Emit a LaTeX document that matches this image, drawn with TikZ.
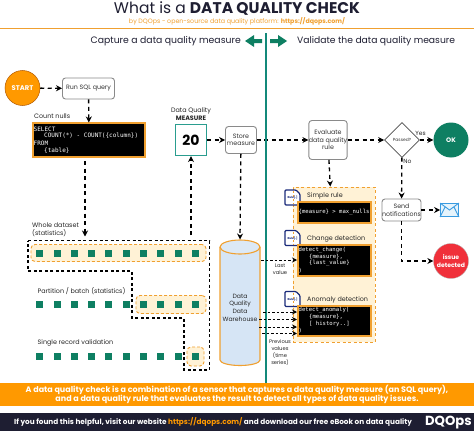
\documentclass[tikz,border=0pt]{standalone}
\usepackage{fontspec}
\setmainfont{Poppins}
\setmonofont{DejaVu Sans Mono}
\usetikzlibrary{arrows.meta,shapes.geometric}
\definecolor{org}{HTML}{FF9900}
\definecolor{borg}{HTML}{F0A030}
\definecolor{teal1}{HTML}{0E7F62}
\definecolor{tealline}{HTML}{13897A}
\definecolor{tealb}{HTML}{2A9D8F}
\definecolor{ink}{HTML}{1E1E32}
\definecolor{cream}{HTML}{FFF2D6}
\definecolor{gb}{HTML}{8A8A8A}
\definecolor{navy}{HTML}{1A2A7A}
\definecolor{cylbody}{HTML}{D6E5F5}
\definecolor{cyltopc}{HTML}{DCE9F6}
\definecolor{alarm}{HTML}{F0303A}
\definecolor{mailb}{HTML}{3A9BE0}
\definecolor{mailf}{HTML}{E6F4FC}
\tikzset{
 x=1pt,y=-1pt,
 flow/.style={draw=black,line width=1.3pt,dash pattern=on 4pt off 3.5pt,-{Stealth[length=6pt,width=6pt]}},
 thin flow/.style={draw=black,line width=0.9pt,dash pattern=on 2.5pt off 2pt,-{Stealth[length=5pt,width=5pt]}},
 greybox/.style={draw=gb,line width=0.9pt,fill=white,rounded corners=3pt,align=center,inner sep=0pt,font=\fontsize{6.3}{7.6}\selectfont,text=black!80},
 code/.style={draw=borg,line width=1.1pt,fill=black,rounded corners=0pt,inner sep=0pt},
 codetxt/.style={text=white,anchor=west,inner sep=0pt,font=\ttfamily\fontsize{5.6}{6.6}\selectfont},
 sqltxt/.style={codetxt,font=\ttfamily\fontsize{6}{7}\selectfont},
 lbl/.style={text=black!85,inner sep=0pt,font=\fontsize{6.4}{7.9}\selectfont},
 lbll/.style={lbl,anchor=west,align=left},
 sq/.style={fill=teal1,minimum size=7pt,inner sep=0pt},
 cband/.style={draw=borg,line width=0.9pt,dash pattern=on 3pt off 2pt,fill=cream,rounded corners=4pt,inner sep=0pt},
 docicon/.style={draw=navy,line width=1.2pt,fill=white,rounded corners=1pt},
 circ/.style={circle,minimum size=35pt,inner sep=0pt,text=white,align=center},
}
\begin{document}
\begin{tikzpicture}
\useasboundingbox (0,0) rectangle (474,431);
\fill[white] (0,0) rectangle (474,431);
% header
\node[inner sep=0pt,text=ink,font=\fontsize{15.5}{18}\selectfont] (title) at (237,9) {What is a \textbf{DATA QUALITY CHECK}};
\node[inner sep=0pt,text=borg,font=\fontsize{6.3}{8}\selectfont] (sub) at (237,21) {by DQOps - open-source data quality platform: \textbf{https://dqops.com/}};
\draw[borg,line width=0.9pt] (0,28.5) -- (474,28.5);
\node[inner sep=0pt,anchor=east,text=ink,font=\fontsize{9.3}{11}\selectfont] (capt) at (241,41) {Capture a data quality measure};
\node[inner sep=0pt,anchor=west,text=ink,font=\fontsize{9.2}{11}\selectfont] (valid) at (297,41) {Validate the data quality measure};
\fill[teal1] (245,41) -- (254,35) -- (254,39) -- (262,39) -- (262,43) -- (254,43) -- (254,47) -- cycle;
\fill[teal1] (287,41) -- (278,35) -- (278,39) -- (270,39) -- (270,43) -- (278,43) -- (278,47) -- cycle;
% capture flow
\node[circ,fill=org,draw=orange!70!black,line width=0.5pt,font=\bfseries\fontsize{6.8}{8}\selectfont] (start) at (22.5,88) {START};
\node[greybox,minimum width=52pt,minimum height=21pt] (run) at (88.5,88.5) {Run SQL query};
\draw[flow] (start) -- (run);
\node[lbll] (cn) at (34,116.5) {Count nulls};
\node[code,minimum width=112pt,minimum height=34pt] (sql) at (89,140) {};
\node[sqltxt] (c1) at (33.5,129) {SELECT};
\node[sqltxt] (c2) at (44,136) {COUNT(*) - COUNT(\{column\})};
\node[sqltxt] (c3) at (33.5,143.5) {FROM};
\node[sqltxt] (c4) at (44,151) {\{table\}};
\draw[flow] (run) -- (sql);
\coordinate (sqlout) at (85,161);
\coordinate (wholein) at (85,236.5);
\draw[flow] (sqlout) -- (wholein);
% datasets
\draw[line width=1.3pt,dash pattern=on 3pt off 2.5pt] (28,240.5) -- (209.5,240.5) -- (209.5,370) -- (184,370) -- (184,318) -- (132,318) -- (132,271) -- (28,271) -- cycle;
\node[cband,minimum width=175pt,minimum height=17pt] (b1) at (118.5,253) {};
\node[cband,minimum width=70pt,minimum height=18pt] (b2) at (171,304.5) {};
\node[cband,minimum width=17pt,minimum height=19pt] (b3) at (195.5,356.5) {};
\foreach \y/\n in {253/a,304.7/b,356.3/c}
 \foreach \i in {0,...,9}
  \node[sq] (s\n\i) at (39.7+17.3*\i,\y) {};
\node[lbll] (wd) at (32,230) {Whole dataset\\(statistics)};
\node[lbll] (pb) at (37.5,291) {Partition / batch (statistics)};
\node[lbll] (sr) at (37.5,343) {Single record validation};
% measure
\node[lbl,align=center] (dqm) at (191,114) {Data Quality\\\textbf{MEASURE}};
\node[draw=tealb,line width=1.2pt,fill=white,minimum size=31pt,inner sep=0pt,font=\bfseries\fontsize{14}{16}\selectfont,text=black] (m20) at (191,140) {20};
\coordinate (mup) at (191,235);
\draw[flow] (mup) -- (m20);
\node[greybox,minimum width=31pt,minimum height=27pt] (store) at (241,140) {Store\\measure};
\draw[flow] (m20) -- (store);
% cylinder
\draw[borg,line width=1.1pt,fill=cylbody] (220,247) -- (220,360) arc[start angle=180,end angle=360,x radius=20,y radius=-5.5] -- (260,247);
\draw[borg,line width=1.1pt,fill=cyltopc] (240,247) ellipse[x radius=20,y radius=7];
\node[inner sep=0pt,align=center,text=black!85,font=\fontsize{6.1}{7.7}\selectfont] (dw) at (240,307.5) {Data\\Quality\\Data\\Warehouse};
\coordinate (cyltop) at (240,239.5);
\draw[flow] (store) -- (cyltop);
% validate flow
\node[greybox,minimum width=38pt,minimum height=39pt] (eval) at (328,140) {Evaluate\\data quality\\rule};
\draw[flow] (store) -- (eval);
\draw[tealline,line width=2pt] (265.5,33) -- (265.5,383);
\node[diamond,draw=black!70,line width=0.7pt,fill=white,minimum width=35pt,minimum height=35pt,inner sep=0pt,font=\fontsize{4.4}{5}\selectfont,text=black!80] (pass) at (402,140) {Passed?};
\draw[flow] (eval) -- (pass);
\node[circ,fill=teal1,font=\bfseries\fontsize{6.5}{8}\selectfont] (ok) at (451,140) {OK};
\draw[flow] (pass) -- (ok);
\node[lbl,font=\fontsize{6}{7.5}\selectfont] (yes) at (420.5,133) {Yes};
\node[lbl,font=\fontsize{6}{7.5}\selectfont] (no) at (407.5,161) {No};
\node[greybox,minimum width=39pt,minimum height=22pt] (send) at (401.5,210) {Send\\notifications};
\draw[flow] (pass) -- (send);
\node[circ,fill=alarm,draw=black!30,line width=0.3pt,font=\bfseries\fontsize{6.1}{7.2}\selectfont] (issue) at (451,261) {issue\\detected};
\draw[flow] (send) |- (issue);
\node[draw=mailb,line width=0.9pt,fill=mailf,minimum width=18pt,minimum height=13pt,inner sep=0pt] (mail) at (449.5,210) {};
\draw[mailb,line width=0.9pt] (mail.north west) -- (mail.center) -- (mail.north east) (mail.south west) -- (445,207) (mail.south east) -- (454,207);
\draw[flow] (send) -- (mail);
% rules
\node[draw=borg,line width=0.9pt,dash pattern=on 3pt off 2.5pt,fill=cream,minimum width=82pt,minimum height=155pt,inner sep=0pt] (rules) at (334,264.5) {};
\draw[flow] (eval) -- (rules);
\foreach \n/\yy in {r1/190,r2/230.5,r3/291.5}{
 \draw[docicon] (285,\yy) -- (296,\yy) -- (300,\yy+4) -- (300,\yy+15) -- (285,\yy+15) -- cycle;
 \draw[borg,line width=0.7pt,dash pattern=on 2pt off 2pt] (293.5,\yy+1) -- (293.5,\yy+14);
 \node[inner sep=0pt,text=navy,font=\bfseries\fontsize{2.8}{3}\selectfont] (\n) at (292.5,\yy+8) {Rule[.]};
}
\node[lbll,font=\fontsize{6.4}{8}\selectfont] (t1) at (307,195.5) {Simple rule};
\node[lbll,font=\fontsize{6.4}{8}\selectfont] (t2) at (307,239) {Change detection};
\node[lbll,font=\fontsize{6.4}{8}\selectfont] (t3) at (307,299.5) {Anomaly detection};
\node[code,minimum width=73pt,minimum height=21pt] (k1) at (334.5,212.5) {};
\node[codetxt] (k1a) at (298.5,212.5) {\{measure\} > max\_nulls};
\node[code,minimum width=73pt,minimum height=31pt] (k2) at (334.5,260.5) {};
\node[codetxt] (k2a) at (298.5,250) {detect\_change(};
\node[codetxt] (k2b) at (309,256.8) {\{measure\},};
\node[codetxt] (k2c) at (309,263.5) {\{last\_value\}};
\node[codetxt] (k2d) at (298.5,270.5) {)};
\node[code,minimum width=73pt,minimum height=30pt] (k3) at (334.5,321) {};
\node[codetxt] (k3a) at (298.5,310.5) {detect\_anomaly(};
\node[codetxt] (k3b) at (309,317) {\{measure\},};
\node[codetxt] (k3c) at (309,324) {[ history..]};
\node[codetxt] (k3d) at (298.5,331) {)};
% thin arrows
\coordinate (l1) at (261,260);
\coordinate (l1e) at (297,260);
\draw[thin flow] (l1) -- (l1e);
\node[lbl,align=center,font=\fontsize{5.2}{6.7}\selectfont] (lv) at (280,269) {Last\\value};
\foreach \yy/\xs in {312/263,319.5/259,327/259,333.5/262}{
 \coordinate (pa) at (\xs,\yy);
 \coordinate (pb2) at (297,\yy);
 \draw[thin flow] (pa) -- (pb2);
}
\node[lbl,align=center,font=\fontsize{5.2}{7}\selectfont] (pv) at (280,352.5) {Previous\\values\\(time\\series)};
% bottom
\fill[org] (0,382.7) rectangle (474,406.3);
\node[inner sep=0pt,align=center,text=white,font=\bfseries\fontsize{8}{9.8}\selectfont] (fb) at (237,394.5) {A data quality check is a combination of a sensor that captures a data quality measure (an SQL query),\\and a data quality rule that evaluates the result to detect all types of data quality issues.};
\fill[ink] (0,413) rectangle (474,431);
\node[inner sep=0pt,anchor=west,text=white,font=\bfseries\fontsize{7.3}{8}\selectfont] (ft) at (14,422) {If you found this helpful, visit our website \textcolor{org}{https://dqops.com/} and download our free eBook on data quality};
\node[inner sep=0pt,anchor=east,text=white,font=\bfseries\fontsize{13.2}{14}\selectfont] (logo) at (472,422.5) {DQOps};
\end{tikzpicture}
\end{document}
